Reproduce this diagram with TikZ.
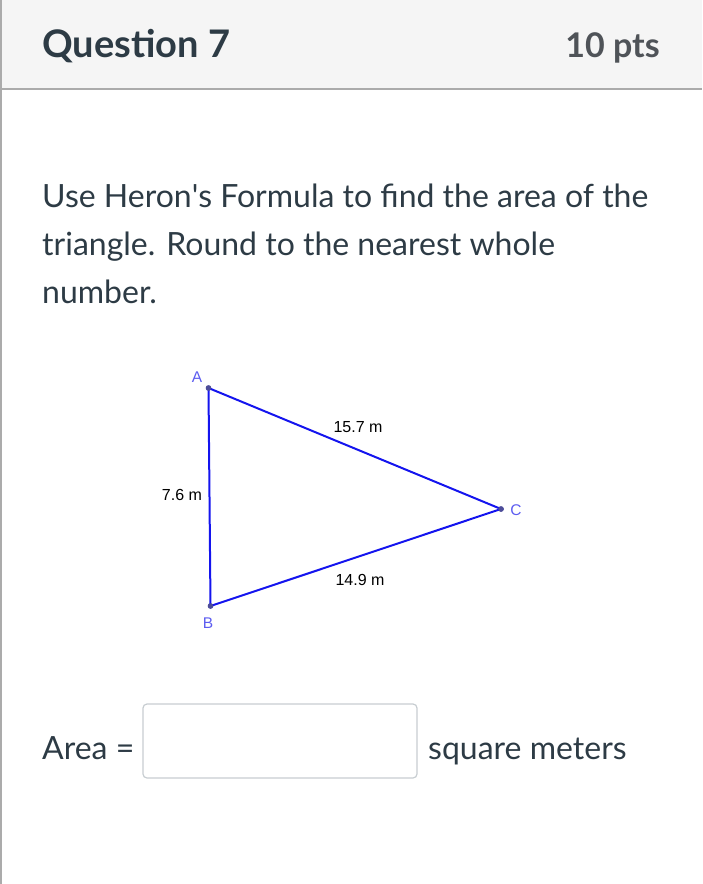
\documentclass[tikz,border=0pt]{standalone}
\usepackage{fontspec}
\setmainfont{Lato}
\newfontfamily\geofont{Liberation Sans}
\definecolor{canvastext}{HTML}{2D3B45}
\definecolor{ptstext}{HTML}{4F5358}
\definecolor{headbg}{HTML}{F5F5F5}
\definecolor{rulegray}{HTML}{ABABAB}
\definecolor{edgeblue}{HTML}{1414EE}
\definecolor{ptlabel}{HTML}{5C5CF0}
\definecolor{ptdot}{HTML}{4D4D99}
\definecolor{boxgray}{HTML}{C7CDD1}
\begin{document}
\begin{tikzpicture}[x=1pt, y=-1pt,
    txt/.style={anchor=base west, inner sep=0pt, text=canvastext, font=\fontsize{32}{38}\selectfont},
    pt/.style={circle, fill=ptdot, inner sep=0pt, minimum size=5.5pt},
    ptname/.style={text=ptlabel, inner sep=0pt, font=\geofont\fontsize{15.5}{18}\selectfont},
    side/.style={inner sep=0pt, font=\geofont\fontsize{16}{19}\selectfont}]
    \useasboundingbox (0,0) rectangle (702,884);
    \fill[headbg] (0,0) rectangle (702,89);
    \draw[rulegray, line width=2pt] (0,89) -- (702,89);
    \draw[rulegray, line width=2pt] (1,0) -- (1,884);
    \node [txt, font=\bfseries\fontsize{38}{44}\selectfont] (qtitle) at (42,57) {Question 7};
    \node [txt, anchor=base east, text=ptstext, font=\bfseries\fontsize{34}{40}\selectfont] (qpts) at (660,57) {10 pts};
    \node [txt] (line1) at (42,207) {Use Heron\textquotesingle s Formula to find the area of the};
    \node [txt] (line2) at (42,255) {triangle. Round to the nearest whole};
    \node [txt] (line3) at (42,303) {number.};
    \node [pt] (A) at (208.5,388) {};
    \node [pt] (B) at (210.5,606) {};
    \node [pt] (C) at (501,509) {};
    \draw [edgeblue, line width=2pt] (A.center) -- (B.center) -- (C.center) -- cycle;
    \foreach \v in {A,B,C} \node [pt] at (\v) {};
    \node [ptname] (labA) at (197,377) {A};
    \node [ptname] (labB) at (208,623) {B};
    \node [ptname] (labC) at (516,510) {C};
    \node [side] (sideAC) at (358,427) {15.7 m};
    \node [side] (sideAB) at (182,495) {7.6 m};
    \node [side] (sideBC) at (360,580) {14.9 m};
    \node [txt] (arealbl) at (42,759) {Area =};
    \draw [boxgray, line width=1.2pt, rounded corners=4pt] (143,704) rectangle (417,778);
    \node [txt] (unit) at (428,759) {square meters};
\end{tikzpicture}
\end{document}
